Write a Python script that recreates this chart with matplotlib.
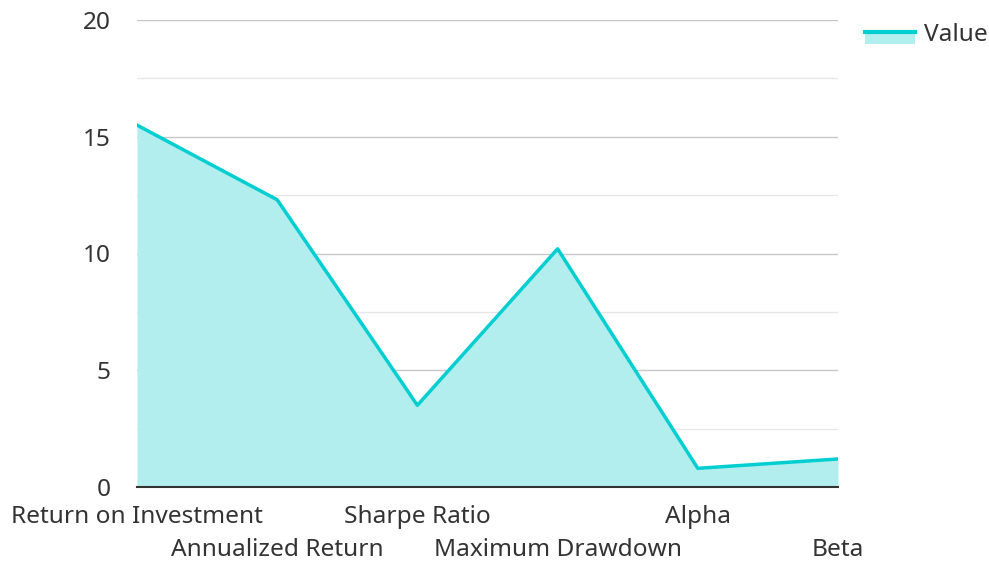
import matplotlib
matplotlib.use("Agg")
import matplotlib.pyplot as plt
from matplotlib.patches import Patch, Rectangle
from matplotlib.lines import Line2D
from matplotlib.legend_handler import HandlerBase

categories = ["Return on Investment", "Annualized Return", "Sharpe Ratio",
              "Maximum Drawdown", "Alpha", "Beta"]
values = [15.5, 12.3, 3.5, 10.2, 0.8, 1.2]
yticks = [0, 5, 10, 15, 20]

plt.rcParams['font.family'] = ['Noto Sans', 'DejaVu Sans']

W, H = 989, 561
fig = plt.figure(figsize=(W / 100, H / 100), dpi=100)
ax = fig.add_axes([137 / W, 1 - 487 / H, (838 - 137) / W, (487 - 20) / H])

line_color = "#00CED1"
fill_color = "#B2EEEE"
x = list(range(len(categories)))
ax.fill_between(x, values, 0, color=fill_color, linewidth=0, zorder=2)
ax.plot(x, values, color=line_color, linewidth=2.5, zorder=3, label="Value")

ax.set_xlim(0, len(categories) - 1)
ax.set_ylim(0, 20)

for v in [2.5, 7.5, 12.5, 17.5]:
    ax.axhline(v, color="#e6e6e6", linewidth=1, zorder=1)
for v in yticks[1:]:
    ax.axhline(v, color="#c8c8c8", linewidth=1, zorder=1)

fs = 17.6
ax.set_yticks(yticks)
ax.set_yticklabels([str(t) for t in yticks])
ax.tick_params(axis='y', length=0, pad=19, labelsize=fs, colors="#333333")

# alternating rows: even categories on major ticks, odd on minor ticks
ax.set_xticks(x[0::2])
ax.set_xticklabels(categories[0::2])
ax.set_xticks(x[1::2], minor=True)
ax.set_xticklabels(categories[1::2], minor=True)
ax.tick_params(axis='x', which='major', length=0, pad=13, labelsize=fs, colors="#333333")
ax.tick_params(axis='x', which='minor', length=0, pad=13 + 24, labelsize=fs, colors="#333333")

for s in ["top", "right", "left"]:
    ax.spines[s].set_visible(False)
ax.spines["bottom"].set_color("#333333")
ax.spines["bottom"].set_linewidth(1.5)
ax.spines["bottom"].set_zorder(4)


class AreaHandler(HandlerBase):
    def create_artists(self, legend, orig, xd, yd, w, h, fontsize, trans):
        ymid = yd + h * 0.5
        r = Rectangle((xd, ymid - h * 0.65), w, h * 0.65, facecolor=fill_color,
                      edgecolor="none", transform=trans)
        l = Line2D([xd, xd + w], [ymid, ymid], color=line_color, linewidth=3,
                   transform=trans)
        return [r, l]


leg = fig.legend([Patch()], ["Value"], handler_map={Patch: AreaHandler()},
                 loc="upper right", bbox_to_anchor=(988 / W, 1 - 23 / H), frameon=False,
                 fontsize=fs, handlelength=2.05, handletextpad=0.38,
                 borderaxespad=0.0, borderpad=0.0)
for t in leg.get_texts():
    t.set_color("#333333")

fig.savefig("out.png", dpi=100)
